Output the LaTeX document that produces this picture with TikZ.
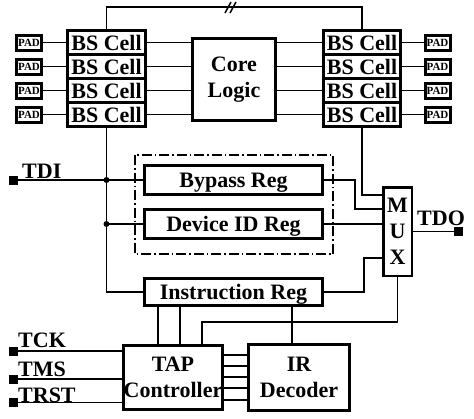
\documentclass[tikz,border=0pt]{standalone}
\usepackage{fontspec}
\setmainfont{Liberation Serif}
\newcommand{\blkfont}{\bfseries\fontsize{22}{26}\selectfont}
\newcommand{\padfont}{\bfseries\fontsize{11}{11}\selectfont}
\tikzset{
  cell/.style={draw, line width=3pt, inner sep=0pt, minimum height=24pt, font=\blkfont},
  pad/.style={draw, line width=3pt, inner sep=0pt, minimum width=25pt, minimum height=15pt, font=\padfont},
  blk/.style={draw, line width=3pt, inner sep=0pt, align=center, font=\blkfont},
  reg/.style={blk, minimum width=178pt, text height=15pt, text depth=0pt},
  wire/.style={line width=1.5pt},
  pin/.style={fill, inner sep=0pt, minimum size=9pt},
  lab/.style={inner sep=0pt, anchor=base west, font=\blkfont},
}
\begin{document}
\begin{tikzpicture}[x=1pt,y=-1pt]
\useasboundingbox (0,0) rectangle (474,418);
% boundary scan cells and pads
\node [cell, minimum width=78pt] (L1) at (106.5,42.5) {BS Cell};
\node [cell, minimum width=78pt] (L2) at (106.5,66.5) {BS Cell};
\node [cell, minimum width=78pt] (L3) at (106.5,90.5) {BS Cell};
\node [cell, minimum width=78pt] (L4) at (106.5,114.5) {BS Cell};
\node [cell, minimum width=77pt] (R1) at (362,42.5) {BS Cell};
\node [cell, minimum width=77pt] (R2) at (362,66.5) {BS Cell};
\node [cell, minimum width=77pt] (R3) at (362,90.5) {BS Cell};
\node [cell, minimum width=77pt] (R4) at (362,114.5) {BS Cell};

\node [pad] (P1) at (29,42.5) {PAD};
\node [pad] (P2) at (29,66.5) {PAD};
\node [pad] (P3) at (29,90.5) {PAD};
\node [pad] (P4) at (29,114.5) {PAD};
\node [pad] (Q1) at (437.5,42.5) {PAD};
\node [pad] (Q2) at (437.5,66.5) {PAD};
\node [pad] (Q3) at (437.5,90.5) {PAD};
\node [pad] (Q4) at (437.5,114.5) {PAD};

% blocks
\node [blk, minimum width=83pt, minimum height=82pt] (core) at (234,79.5) {Core\\Logic};
\node [reg, minimum height=29pt] (byp) at (233.5,180) {Bypass Reg};
\node [reg, minimum height=29pt] (dev) at (233.5,224) {Device ID Reg};
\node [reg, minimum height=27pt] (ins) at (233.5,292) {Instruction Reg};
\node [blk, line width=2.5pt, minimum width=28.5pt, minimum height=88.5pt] (mux) at (397.5,231.5) {M\\U\\X};
\node [blk, minimum width=97pt, minimum height=64pt] (tap) at (173,377.5) {TAP\\Controller};
\node [blk, minimum width=101pt, minimum height=66pt] (dec) at (299,377.5) {IR\\Decoder};

% pins
\node [pin] (tdi) at (13.5,180) {};
\node [pin] (tdo) at (458.5,231.5) {};
\node [pin] (tck) at (13.5,351) {};
\node [pin] (tms) at (13.5,379) {};
\node [pin] (trst) at (13.5,402.5) {};
\node [lab] (tdilab) at (22,178) {TDI};
\node [lab] (tdolab) at (417,225) {TDO};
\node [lab] (tcklab) at (18,347) {TCK};
\node [lab] (tmslab) at (18,376) {TMS};
\node [lab] (trstlab) at (18,402) {TRST};

% dash-dot frame of the data registers
\draw [line width=1.5pt, dash pattern=on 10pt off 3pt on 1.5pt off 3pt] (135,155) rectangle (333,254);

% wires
\draw [wire] (P1.east) -- (L1.west);
\draw [wire] (P2.east) -- (L2.west);
\draw [wire] (P3.east) -- (L3.west);
\draw [wire] (P4.east) -- (L4.west);
\draw [wire] (R1.east) -- (Q1.west);
\draw [wire] (R2.east) -- (Q2.west);
\draw [wire] (R3.east) -- (Q3.west);
\draw [wire] (R4.east) -- (Q4.west);
\draw [wire] (L1.east) -- (L1.east -| core.west);
\draw [wire] (L2.east) -- (L2.east -| core.west);
\draw [wire] (L3.east) -- (L3.east -| core.west);
\draw [wire] (L4.east) -- (L4.east -| core.west);
\draw [wire] (R1.west -| core.east) -- (R1.west);
\draw [wire] (R2.west -| core.east) -- (R2.west);
\draw [wire] (R3.west -| core.east) -- (R3.west);
\draw [wire] (R4.west -| core.east) -- (R4.west);

\coordinate (bus) at (234,7);
\draw [wire] (L1.north) |- (bus) -| (R1.north);
\draw [wire] (225,13) -- (231,2) (230,13) -- (236,2);

\draw [wire] (tdi.center) -- (byp.west);
\draw [wire] (L4.south) |- (ins.west);
\draw [wire] (L4.south |- dev.west) -- (dev.west);
\fill (L4.south |- byp.west) circle (3);
\fill (L4.south |- dev.west) circle (3);

\draw [wire] (R4.south) |- (mux.west |- 0,195);
\draw [wire] (byp.east) -- ++(31,0) |- (mux.west |- 0,209);
\draw [wire] (dev.east) -- (mux.west |- dev.east);
\draw [wire] (ins.east) -- ++(40,0) |- (mux.west |- 0,258);
\draw [wire] (mux.east) -- (tdo.center);

\draw [wire] (mux.south) |- (202,322) -- (tap.north -| 202,0);
\draw [wire] (ins.south -| 158,0) -- (tap.north -| 158,0);
\draw [wire] (ins.south -| 180,0) -- (tap.north -| 180,0);
\draw [wire] (ins.south -| 292,0) -- (dec.north -| 292,0);
\foreach \y in {355,366,377,388,400}
  \draw [wire] (tap.east |- 0,\y) -- (dec.west |- 0,\y);

\draw [wire] (tck.center) -- (tap.west |- tck);
\draw [wire] (tms.center) -- (tap.west |- tms);
\draw [wire] (trst.center) -- (tap.west |- trst);

\end{tikzpicture}
\end{document}
